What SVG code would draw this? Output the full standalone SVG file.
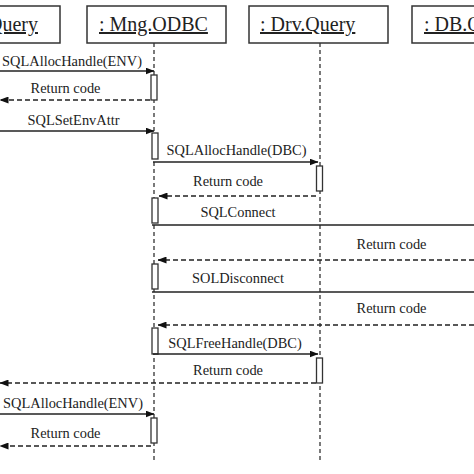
<svg xmlns="http://www.w3.org/2000/svg" width="474" height="474" viewBox="0 0 474 474">
<style>
.box{fill:#fff;stroke:#333;stroke-width:1.5}
.life{stroke:#333;stroke-width:1.3;stroke-dasharray:4,3;fill:none}
.act{fill:#fff;stroke:#333;stroke-width:1.3}
.call{stroke:#222;stroke-width:1.3;fill:none}
.ret{stroke:#222;stroke-width:1.3;stroke-dasharray:5,3;fill:none}
.obj{font-family:"Liberation Serif",serif;font-size:20px;fill:#222;text-decoration:underline}
.lbl{font-family:"Liberation Serif",serif;font-size:14.4px;fill:#222;text-anchor:middle}
</style>
<defs>
<marker id="ah" markerWidth="9" markerHeight="7" refX="8.5" refY="3.5" orient="auto" markerUnits="userSpaceOnUse">
<path d="M0,0 L9,3.5 L0,7 z" fill="#111"/>
</marker>
</defs>
<rect width="474" height="474" fill="#fff"/>
<g id="query">
<rect class="box" x="-20" y="6" width="80" height="37"/>
<text class="obj" x="-12" y="31">Query</text>
</g>
<g id="mng">
<rect class="box" x="87" y="6" width="139" height="37"/>
<text class="obj" x="99" y="31">: Mng.ODBC</text>
<line class="life" x1="154" y1="43" x2="154" y2="463"/>
<rect class="act" x="151" y="75" width="6" height="25"/>
<rect class="act" x="152" y="133" width="6" height="26"/>
<rect class="act" x="152" y="198" width="6" height="25"/>
<rect class="act" x="152" y="264" width="6" height="25"/>
<rect class="act" x="152" y="328" width="6" height="26"/>
<rect class="act" x="151" y="418" width="6" height="25"/>
</g>
<g id="drv">
<rect class="box" x="249" y="6" width="139" height="37"/>
<text class="obj" x="260" y="31">: Drv.Query</text>
<line class="life" x1="320" y1="43" x2="320" y2="463"/>
<rect class="act" x="316.5" y="166" width="6" height="25"/>
<rect class="act" x="316.5" y="358" width="6" height="25"/>
</g>
<g id="db">
<rect class="box" x="412" y="6" width="80" height="37"/>
<text class="obj" x="424" y="31">: DB.Query</text>
</g>
<g id="connectors">
<line class="call" x1="0" y1="71" x2="154" y2="71" marker-end="url(#ah)"/>
<text class="lbl" x="72" y="66">SQLAllocHandle(ENV)</text>
<line class="ret" x1="150" y1="100" x2="0" y2="100" marker-end="url(#ah)"/>
<text class="lbl" x="65.5" y="93">Return code</text>
<line class="call" x1="0" y1="131" x2="154" y2="131" marker-end="url(#ah)"/>
<text class="lbl" x="73.5" y="125">SQLSetEnvAttr</text>
<line class="call" x1="153" y1="162" x2="318" y2="162" marker-end="url(#ah)"/>
<text class="lbl" x="236.5" y="155">SQLAllocHandle(DBC)</text>
<line class="ret" x1="316" y1="196" x2="159" y2="196" marker-end="url(#ah)"/>
<text class="lbl" x="228" y="186">Return code</text>
<line class="call" x1="152" y1="225" x2="474" y2="225"/>
<text class="lbl" x="238" y="217">SQLConnect</text>
<line class="ret" x1="474" y1="260" x2="158" y2="260" marker-end="url(#ah)"/>
<text class="lbl" x="391.5" y="249">Return code</text>
<line class="call" x1="152" y1="292" x2="474" y2="292"/>
<text class="lbl" x="238" y="283">SOLDisconnect</text>
<line class="ret" x1="474" y1="325" x2="158" y2="325" marker-end="url(#ah)"/>
<text class="lbl" x="391.5" y="313">Return code</text>
<line class="call" x1="153" y1="354" x2="318" y2="354" marker-end="url(#ah)"/>
<text class="lbl" x="235" y="348">SQLFreeHandle(DBC)</text>
<line class="ret" x1="316" y1="383" x2="0" y2="383" marker-end="url(#ah)"/>
<text class="lbl" x="228" y="375">Return code</text>
<line class="call" x1="0" y1="414" x2="154" y2="414" marker-end="url(#ah)"/>
<text class="lbl" x="73" y="408">SQLAllocHandle(ENV)</text>
<line class="ret" x1="151" y1="446" x2="0" y2="446" marker-end="url(#ah)"/>
<text class="lbl" x="65.5" y="438">Return code</text>
</g>
</svg>
